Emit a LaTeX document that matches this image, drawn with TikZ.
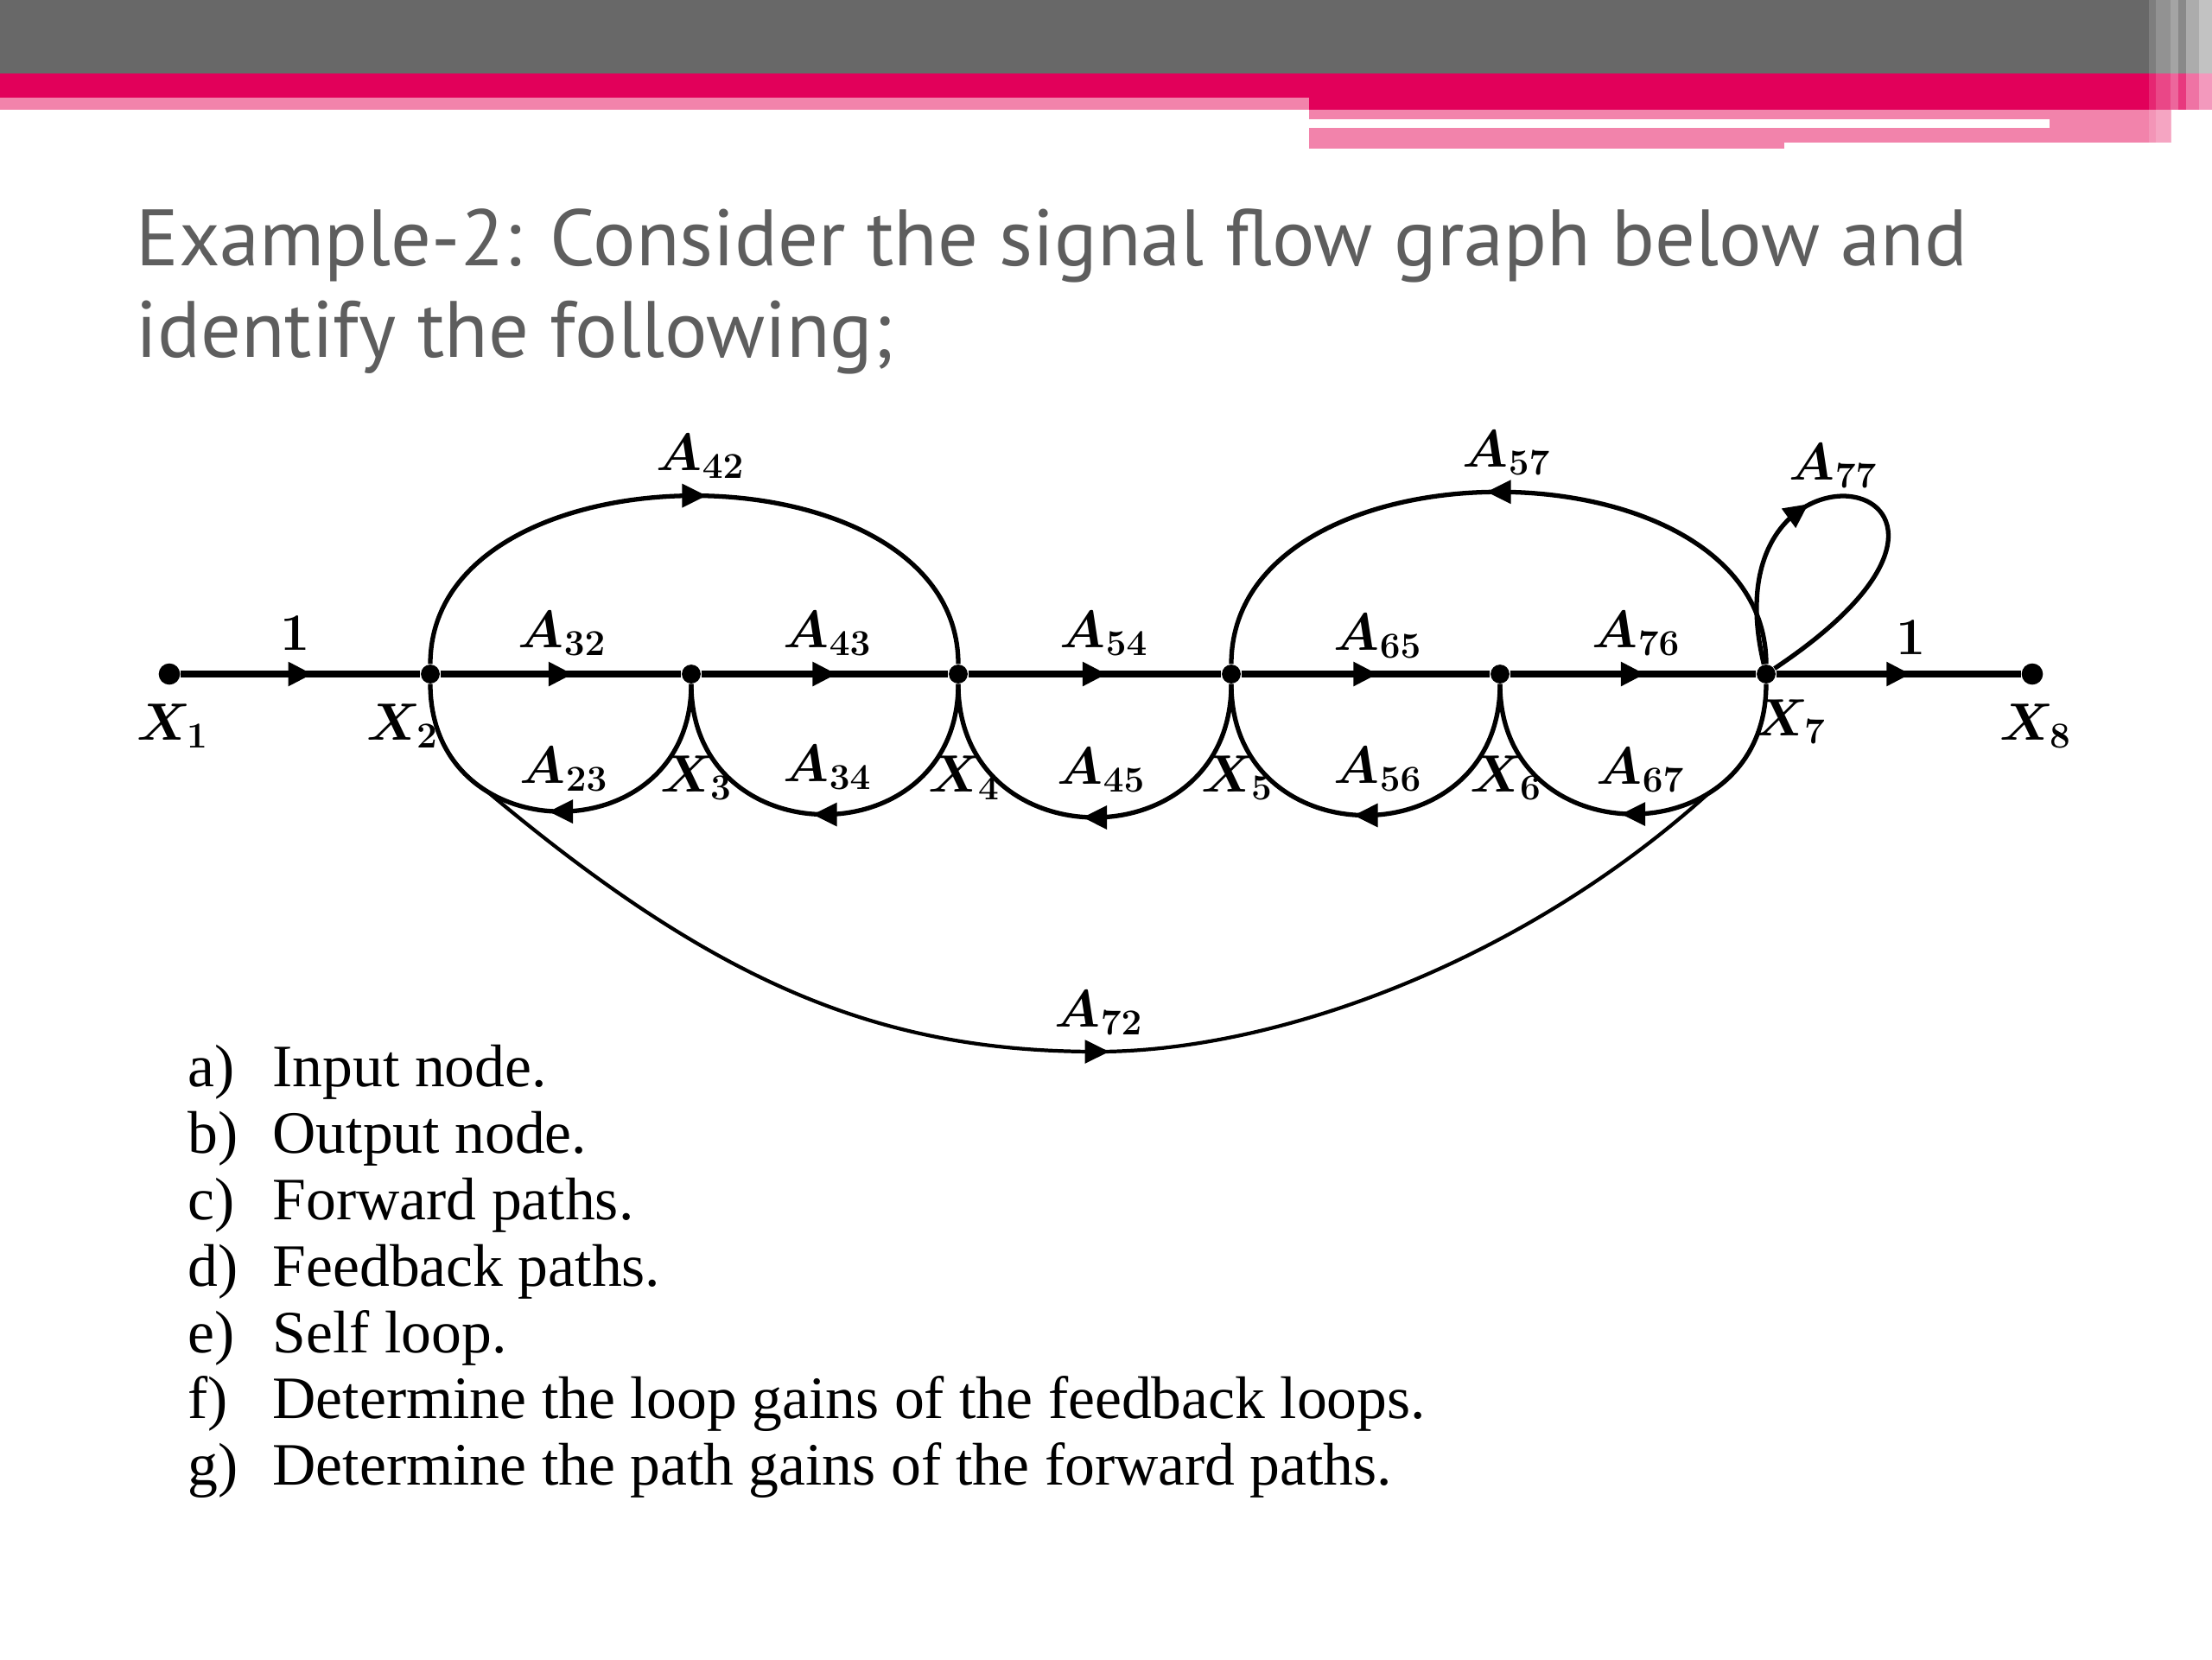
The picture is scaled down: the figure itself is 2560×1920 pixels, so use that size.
\documentclass[tikz,border=0pt]{standalone}
\usepackage{fontspec}
\setmainfont{Liberation Serif}
\newfontfamily\titlefont{PT Sans}
\usetikzlibrary{arrows.meta,decorations.markings,calc}
\definecolor{bargray}{HTML}{686868}
\definecolor{barmag}{HTML}{E2005A}
\definecolor{barpink}{HTML}{F283AB}
\definecolor{titlegray}{HTML}{5E5E5E}
\tikzset{
  dot/.style={circle, fill=black, inner sep=0pt, minimum size=6.2pt},
  bigdot/.style={circle, fill=black, inner sep=0pt, minimum size=7pt},
  mainln/.style={line width=2.3pt},
  arcln/.style={line width=1.5pt},
  thinln/.style={line width=1.2pt},
  midarr/.style={postaction={decorate}, decoration={markings,
      mark=at position #1 with {\pgftransformxshift{4pt}\arrow{Triangle[length=8pt,width=7.5pt]}}}},
  glbl/.style={inner sep=0pt, font=\fontsize{17}{20}\selectfont\boldmath},
  xlbl/.style={inner sep=0pt, font=\fontsize{16.5}{20}\selectfont\boldmath},
  itm/.style={anchor=base west, inner sep=0pt, font=\fontsize{19.8}{23}\selectfont},
  ttl/.style={anchor=base west, inner sep=0pt, text=titlegray, font=\titlefont\fontsize{26.3}{30}\selectfont},
}
\begin{document}
\begin{tikzpicture}[x=0.01cm, y=0.01cm]
\useasboundingbox (0,0) rectangle (2560,-1920);
\fill[white] (0,0) rectangle (2560,-1920);
% header banner
\fill[bargray] (0,0) rectangle (2560,-85);
\fill[barmag] (0,-85) rectangle (2560,-113);
\fill[barpink] (0,-113) rectangle (1515,-127);
\fill[barmag] (1515,-113) rectangle (2560,-127);
\fill[barpink] (1515,-127) rectangle (2513,-165);
\fill[barpink] (1515,-165) rectangle (2065,-172);
\fill[white] (1515,-138) rectangle (2372,-148);
\fill[white, opacity=0.15] (2487,0) rectangle (2495,-172);
\fill[white, opacity=0.28] (2495,0) rectangle (2512,-172);
\fill[white, opacity=0.4] (2512,0) rectangle (2521,-172);
\fill[white, opacity=0.22] (2521,0) rectangle (2530,-172);
\fill[white, opacity=0.45] (2530,0) rectangle (2545,-172);
\fill[white, opacity=0.6] (2545,0) rectangle (2560,-172);
% title
\node[ttl] (t1) at (157,-307) {Example-2: Consider the signal flow graph below and};
\node[ttl] (t2) at (157,-413) {identify the following;};
% graph nodes
\node[bigdot] (X1) at (196,-780) {};
\node[dot] (X2) at (498,-780) {};
\node[dot] (X3) at (800,-780) {};
\node[dot] (X4) at (1109,-780) {};
\node[dot] (X5) at (1425,-780) {};
\node[dot] (X6) at (1736,-780) {};
\node[dot] (X7) at (2044,-780) {};
\node[bigdot] (X8) at (2352,-780) {};
% forward main line
\draw[mainln, midarr=0.5] (X1) -- (X2);
\draw[mainln, midarr=0.5] (X2) -- (X3);
\draw[mainln, midarr=0.5] (X3) -- (X4);
\draw[mainln, midarr=0.5] (X4) -- (X5);
\draw[mainln, midarr=0.5] (X5) -- (X6);
\draw[mainln, midarr=0.5] (X6) -- (X7);
\draw[mainln, midarr=0.5] (X7) -- (X8);
% upper arcs
\draw[arcln, midarr=0.5] (X2) to[out=90, in=90, looseness=1.09] (X4);
\draw[arcln, midarr=0.5] (X7) to[out=90, in=90, looseness=1.10] (X5);
% lower arcs
\draw[arcln, midarr=0.5] (X3) to[out=-90, in=-90, looseness=1.67] (X2);
\draw[arcln, midarr=0.5] (X4) to[out=-90, in=-90, looseness=1.67] (X3);
\draw[arcln, midarr=0.5] (X5) to[out=-90, in=-90, looseness=1.67] (X4);
\draw[arcln, midarr=0.5] (X6) to[out=-90, in=-90, looseness=1.67] (X5);
\draw[arcln, midarr=0.5] (X7) to[out=-90, in=-90, looseness=1.67] (X6);
% self loop
\draw[arcln, midarr=0.36] (X7) .. controls ($(X7)+(-74,310)$) and ($(X7)+(345,230)$) .. (X7);
% long forward path A72
\coordinate (D1) at (563.2,-915.4);
\coordinate (b72) at (1270,-1217);
\coordinate (D2) at (1977.5,-917.9);
\draw[thinln, midarr=0.5] (X2) .. controls (498,-850.2) and (525.2,-891.7) .. (D1)
   .. controls ($(D1)+(268,-225)$) and ($(b72)+(-250,0)$) .. (b72)
   .. controls ($(b72)+(200,0)$) and ($(D2)+(-223,-201)$) .. (D2)
   .. controls (2016.3,-893.7) and (2044,-851.4) .. (X7);
% gain labels
\node[glbl] (g12) at (342,-733) {$1$};
\node[glbl] (g32) at (651,-733) {$A_{32}$};
\node[glbl] (g43) at (958,-733) {$A_{43}$};
\node[glbl] (g54) at (1278,-733) {$A_{54}$};
\node[glbl] (g65) at (1595,-736) {$A_{65}$};
\node[glbl] (g76) at (1894,-733) {$A_{76}$};
\node[glbl] (g87) at (2212,-738) {$1$};
\node[glbl] (g42) at (811,-528) {$A_{42}$};
\node[glbl] (g57) at (1744,-524) {$A_{57}$};
\node[glbl] (g77) at (2122,-539) {$A_{77}$};
\node[glbl] (g23) at (653,-890) {$A_{23}$};
\node[glbl] (g34) at (958,-888) {$A_{34}$};
\node[glbl] (g45) at (1275,-891) {$A_{45}$};
\node[glbl] (g56) at (1595,-890) {$A_{56}$};
\node[glbl] (g67) at (1899,-891) {$A_{67}$};
\node[glbl] (g72) at (1272,-1172) {$A_{72}$};
% node labels
\node[xlbl] (l1) at (200,-840) {$X_1$};
\node[xlbl] (l2) at (466,-840) {$X_2$};
\node[xlbl] (l3) at (806,-900) {$X_3$};
\node[xlbl] (l4) at (1116,-900) {$X_4$};
\node[xlbl] (l5) at (1432,-900) {$X_5$};
\node[xlbl] (l6) at (1743,-900) {$X_6$};
\node[xlbl] (l7) at (2072,-835) {$X_7$};
\node[xlbl] (l8) at (2356,-840) {$X_8$};
% question list
\node[itm] (ia) at (217,-1257) {a)};
\node[itm] (ta) at (315,-1257) {Input node.};
\node[itm] (ib) at (217,-1334) {b)};
\node[itm] (tb) at (315,-1334) {Output node.};
\node[itm] (ic) at (217,-1411) {c)};
\node[itm] (tc) at (315,-1411) {Forward paths.};
\node[itm] (id) at (217,-1488) {d)};
\node[itm] (td) at (315,-1488) {Feedback paths.};
\node[itm] (ie) at (217,-1565) {e)};
\node[itm] (te) at (315,-1565) {Self loop.};
\node[itm] (if) at (217,-1641) {f)};
\node[itm] (tf) at (315,-1641) {Determine the loop gains of the feedback loops.};
\node[itm] (ig) at (217,-1718) {g)};
\node[itm] (tg) at (315,-1718) {Determine the path gains of the forward paths.};
\end{tikzpicture}
\end{document}
